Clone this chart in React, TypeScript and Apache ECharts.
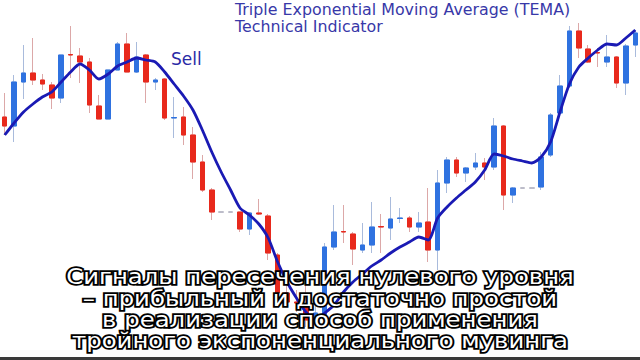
import React, { useEffect, useRef } from "react";
import * as echarts from "echarts";

// Candles (price units, higher = up)
const openP = [243,234,278,287,280,275,262,305.5,304,298,254,241,290,316,288,305,278,281,242,243,225,198,170,148,148,148,131,147,144,105,67,58,55,40,42,113,128.5,126,110,115,133.5,132,141.5,142,133,138,110,177,200,187,193,197,193,234,165,172,172,173,205,247,274,329,311,307.5,298,303,277,315];
const closeP = [234,278,287,280,276,262,305,305,298,255,241,290,316,288,303,278,280,242,242.5,225,198,170,148,148,148,131,147,146,107,67,58,57,40,47,113,128,128,111,115,133,133,141,142,133,137,110,177,200,187,192,197,193,234,165,172,172,172,203,245,274,329,312,298,307,303,277,314,327];
const lowP = [225,218,261,275,270,251,257,282,277,247,241,241,290,288,287,257,270,240,222,215,181,168,140,148,148,128,125,145,100,60,55,48,33,35,38,110,117,95,107,107,107,120,137,128,128,98,90,167,183,178,190,180,190,150,157,172,172,170,203,245,272,302,297,293,293,272,265,303];
const highP = [267,285,315,322,286,278,305,334,312,302,265,290,318,327,318,306,282,282,263,253,233,205,172,148,148,148,148,161,146,107,75,70,77,60,117,155,155,128,137,158,146,163,152,144,148,172,190,203,203,193,207,202,242,235,173,172,172,208,247,285,334,337,315,312,325,304,316,330];
// TEMA indicator line
const tema = [225,237,248,256,263,268,278,288,296,290,281,286,294,298,302,300,298,288,276,264,250,230,208,188,170,152,145,136,122,98,78,62,48,40,47,55,68,78,86,94,100,107,113,118,123,120,142,153,162,170,178,190,206,204,201,199,197,203,218,248,276,293,302,310,316,315,322,330];

const titleLines = ["Triple Exponential Moving Average (TEMA)", "Technical Indicator"];
const signalLabel = "Sell";
const subtitleLines = [
  "Сигналы пересечения нулевого уровня",
  "– прибыльный и достаточно простой",
  "в реализации способ применения",
  "тройного экспоненциального мувинга",
];

const UP = "#2f72e0";
const DOWN = "#e8291c";
const UP_WICK = "#a9bbdc";
const DOWN_WICK = "#dca8a8";
const FLAT = "#b8b8c6";

export default function App() {
  const ref = useRef<HTMLDivElement>(null);
  useEffect(() => {
    document.body.style.margin = "0";
    const chart = echarts.init(ref.current!, null, { renderer: "svg" });
    const cats = openP.map((_, i) => String(i + 1));
    const isFlat = (i: number) => openP[i] === closeP[i] && lowP[i] === highP[i];
    const flatStyle = { color: FLAT, color0: FLAT, borderColor: FLAT, borderColor0: FLAT };
    const wicks = openP.map((o, i) => ({
      value: [o, closeP[i], lowP[i], highP[i]],
      itemStyle: isFlat(i) ? flatStyle : undefined,
    }));
    const bodies = openP.map((o, i) => ({
      value: [o, closeP[i], Math.min(o, closeP[i]), Math.max(o, closeP[i])],
      itemStyle: isFlat(i) ? flatStyle : undefined,
    }));
    const subFont = '21px "DejaVu Sans"';
    const subY = [277, 299, 320, 341];
    const titleY = [3, 20];
    chart.setOption({
      animation: false,
      backgroundColor: "#ffffff",
      grid: { left: 0, right: -3, top: 0, bottom: 0 },
      xAxis: { type: "category", data: cats, show: false, boundaryGap: true },
      yAxis: { type: "value", min: 0, max: 360, show: false },
      series: [
        {
          type: "candlestick",
          data: wicks,
          barWidth: 5,
          itemStyle: { color: UP_WICK, color0: DOWN_WICK, borderColor: UP_WICK, borderColor0: DOWN_WICK, borderWidth: 1 },
          z: 2,
        },
        {
          type: "candlestick",
          data: bodies,
          barWidth: 5,
          itemStyle: { color: UP, color0: DOWN, borderColor: UP, borderColor0: DOWN, borderWidth: 1 },
          z: 3,
        },
        {
          type: "line",
          data: tema,
          smooth: 0.25,
          symbol: "none",
          lineStyle: { color: "#1a1ab4", width: 2.8 },
          z: 4,
        },
      ],
      graphic: [
        ...titleLines.map((t, i) => ({
          type: "text",
          x: 235,
          y: titleY[i],
          scaleX: 1.057,
          z: 10,
          style: {
            text: t,
            fill: "#3838a8",
            font: '15px "DejaVu Sans"',
            textVerticalAlign: "top",
          },
        })),
        {
          type: "text",
          x: 171,
          y: 50,
          z: 10,
          style: { text: signalLabel, fill: "#2a2aa6", font: '17px "DejaVu Sans"', textVerticalAlign: "top" },
        },
        ...subtitleLines.map((t, i) => ({
          type: "text",
          x: 320,
          y: subY[i],
          scaleX: 1.16,
          z: 20,
          style: {
            text: t,
            fill: "#ffffff",
            stroke: "#000000",
            lineWidth: 3.5,
            strokeFirst: true,
            font: subFont,
            textAlign: "center",
            textVerticalAlign: "middle",
          },
        })),
        {
          type: "rect",
          z: 30,
          shape: { x: 0, y: 357, width: 640, height: 3 },
          style: { fill: "#3a3a3a" },
        },
      ],
    });
    return () => chart.dispose();
  }, []);
  return <div ref={ref} style={{ width: 640, height: 360 }} />;
}
